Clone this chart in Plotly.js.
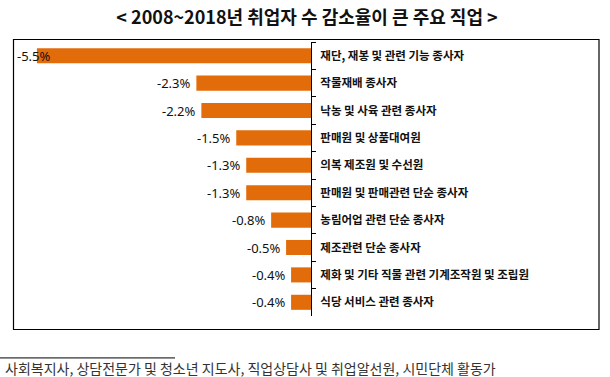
<!DOCTYPE html>
<html><head><meta charset="utf-8">
<script src="https://cdn.plot.ly/plotly-3.0.1.min.js"></script>
<style>html,body{margin:0;padding:0;background:#fff}#chart{width:610px;height:377px}</style>
</head><body><div id="chart"></div>
<script>
const titleText = "< 2008~2018년 취업자 수 감소율이 큰 주요 직업 >";
const categories = [
  "재단, 재봉 및 관련 기능 종사자",
  "작물재배 종사자",
  "낙농 및 사육 관련 종사자",
  "판매원 및 상품대여원",
  "의복 제조원 및 수선원",
  "판매원 및 판매관련 단순 종사자",
  "농림어업 관련 단순 종사자",
  "제조관련 단순 종사자",
  "제화 및 기타 직물 관련 기계조작원 및 조립원",
  "식당 서비스 관련 종사자"
];
const values = [-5.5, -2.3, -2.2, -1.5, -1.3, -1.3, -0.8, -0.5, -0.4, -0.4];
const footnote = "사회복지사, 상담전문가 및 청소년 지도사, 직업상담사 및 취업알선원, 시민단체 활동가";

const W = 610, H = 377;
const L = 12, R = 299, T = 41.5, B = 61;
const xRange = [-6, 0];
const pw = W - L - R, ph = H - T - B;
const pxPerUnit = pw / (xRange[1] - xRange[0]);
const px2paperX = p => (p - L) / pw;
const px2paperY = p => (H - B - p) / ph;

const annotations = values.map((v, i) => {
  const label = v.toFixed(1) + "%";
  const barStartPx = L + (v - xRange[0]) * pxPerUnit;
  const fits = barStartPx - 4 - 34 >= L;
  return fits ? {
    x: v, y: categories[i], xref: 'x', yref: 'y', text: label, showarrow: false,
    xanchor: 'right', xshift: -3, font: {family: 'Noto Sans, sans-serif', size: 13, color: '#111'}
  } : {
    x: xRange[0], y: categories[i], xref: 'x', yref: 'y', text: label, showarrow: false,
    xanchor: 'left', xshift: 3, font: {family: 'Noto Sans, sans-serif', size: 13, color: '#111'}
  };
});
annotations.push({
  xref: 'paper', yref: 'paper', x: px2paperX(3), y: px2paperY(368.5), xanchor: 'left', yanchor: 'middle',
  text: footnote, showarrow: false,
  font: {family: 'Noto Sans CJK KR, sans-serif', size: 14, color: '#333'}
});

const data = [{
  type: 'bar', orientation: 'h', y: categories, x: values,
  marker: {color: '#E36C0A'}, width: 0.55, hoverinfo: 'none'
}];

const layout = {
  width: W, height: H,
  margin: {l: L, r: R, t: T, b: B, pad: 0},
  paper_bgcolor: '#fff', plot_bgcolor: 'rgba(0,0,0,0)',
  showlegend: false,
  title: {text: titleText, x: 307 / W, xref: 'container', xanchor: 'center',
    y: 1 - 17.5 / H, yref: 'container', yanchor: 'middle',
    font: {family: 'Noto Sans CJK KR, sans-serif', size: 18, weight: 'bold', color: '#111'}},
  xaxis: {range: xRange, visible: false, fixedrange: true},
  yaxis: {type: 'category', autorange: 'reversed', side: 'right',
    showline: true, linecolor: '#000', linewidth: 1,
    ticks: 'outside', ticklen: 4, tickcolor: '#000', tickson: 'boundaries',
    ticklabelstandoff: 6, showgrid: false, zeroline: false,
    tickfont: {family: 'Noto Sans CJK KR, sans-serif', size: 11.5, weight: 'bold', color: '#111'}},
  annotations: annotations,
  shapes: [
    {type: 'rect', xref: 'paper', yref: 'paper',
     x0: px2paperX(13.5), x1: px2paperX(599), y0: px2paperY(39), y1: px2paperY(329.5),
     line: {color: '#000', width: 1.2}, fillcolor: 'rgba(0,0,0,0)'},
    {type: 'line', xref: 'paper', yref: 'paper',
     x0: px2paperX(0), x1: px2paperX(175), y0: px2paperY(358), y1: px2paperY(358),
     line: {color: '#000', width: 1}}
  ]
};
Plotly.newPlot('chart', data, layout, {staticPlot: true, displayModeBar: false});
</script></body></html>
